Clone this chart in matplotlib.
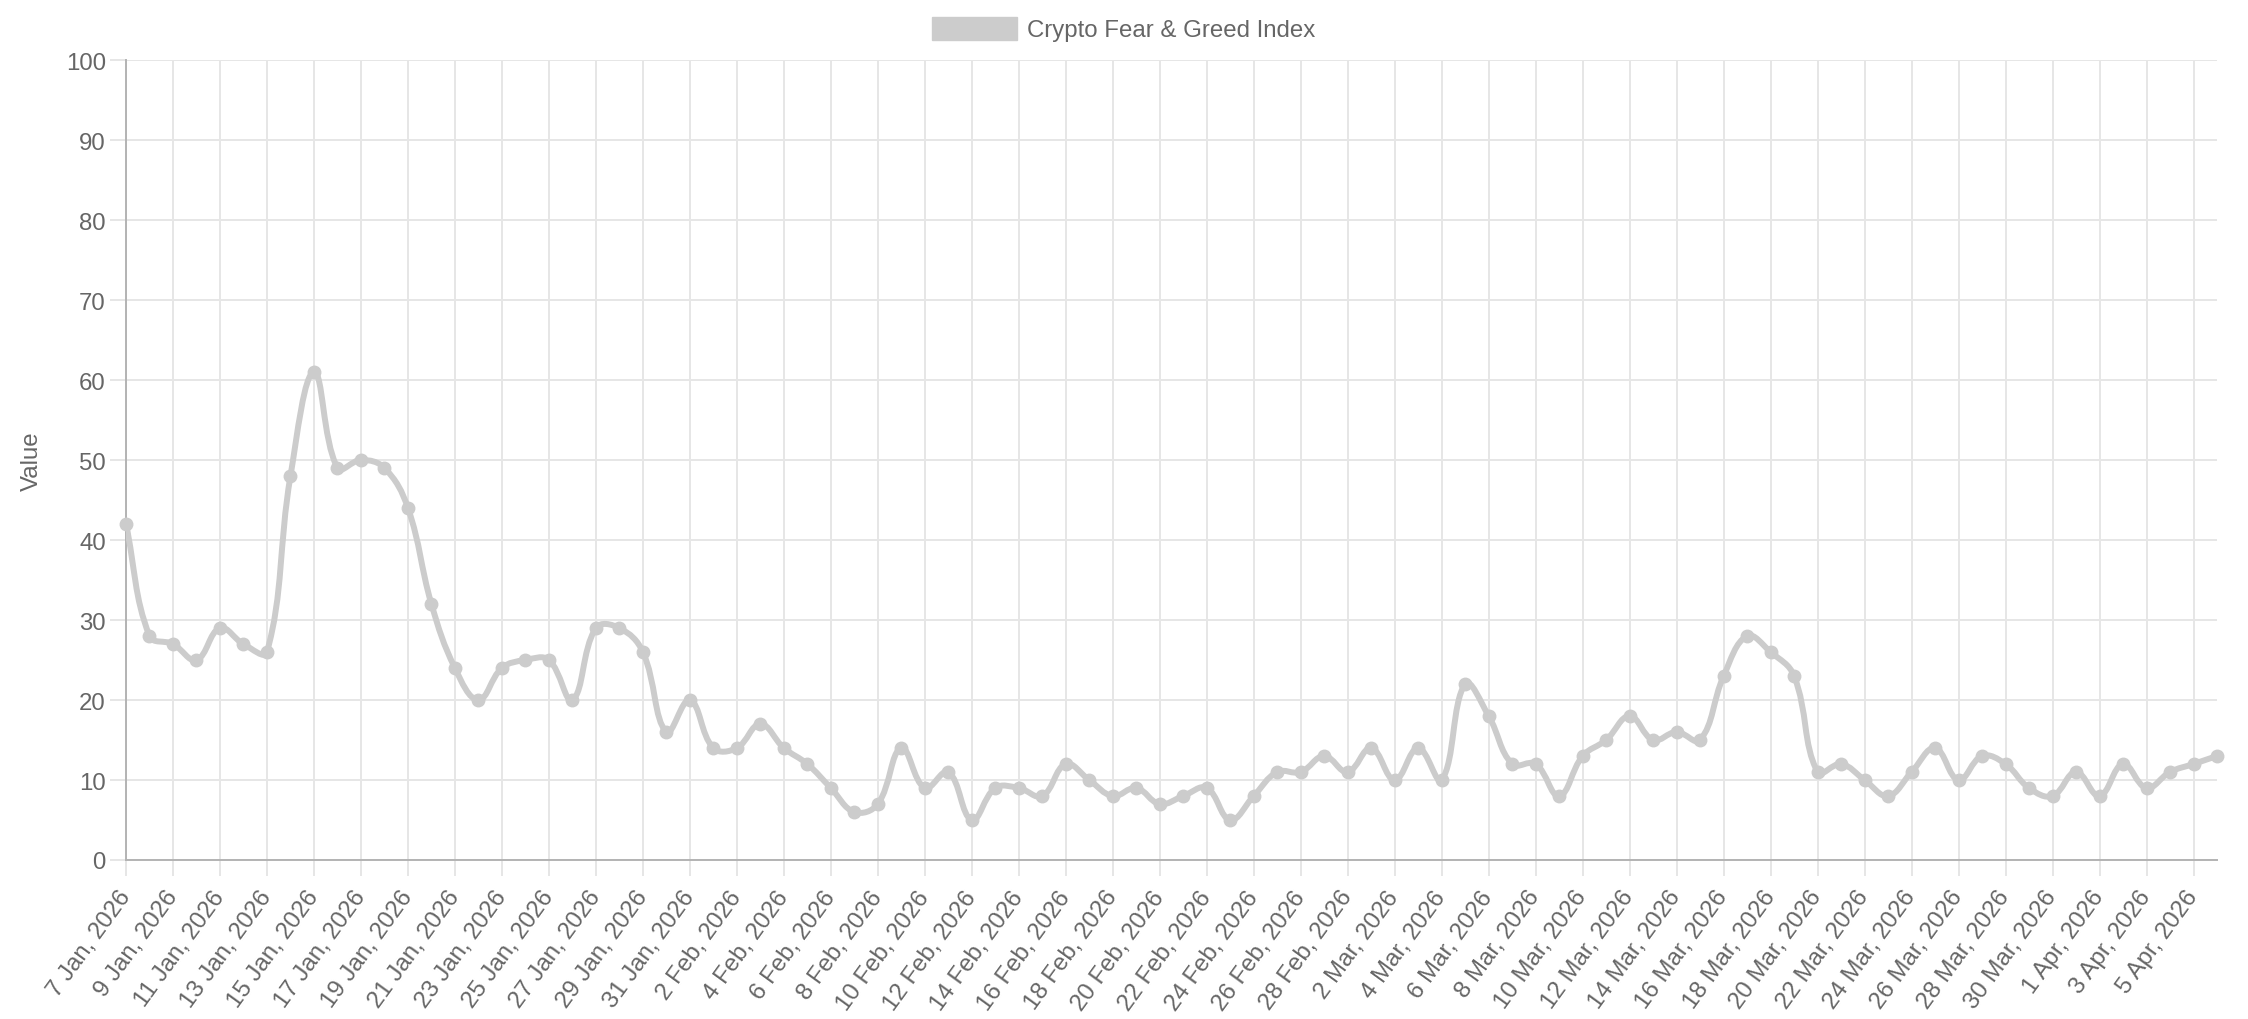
import numpy as np
import pandas as pd
import matplotlib
matplotlib.use("Agg")
import matplotlib.pyplot as plt
from matplotlib.path import Path
from matplotlib.patches import PathPatch, Patch

plt.rcParams['font.family'] = ['Liberation Sans', 'DejaVu Sans']

# --- data ---
start_date = "2026-01-07"
values = [
    42, 28, 27, 25, 29, 27, 26, 48, 61, 49, 50, 49, 44, 32, 24, 20, 24, 25, 25, 20,
    29, 29, 26, 16, 20,                                   # 7 Jan .. 31 Jan
    14, 14, 17, 14, 12, 9, 6, 7, 14, 9, 11, 5, 9, 9, 8, 12, 10, 8, 9, 7,
    8, 9, 5, 8, 11, 11, 13, 11,                           # Feb
    14, 10, 14, 10, 22, 18, 12, 12, 8, 13, 15, 18, 15, 16, 15, 23, 28, 26, 23, 11,
    12, 10, 8, 11, 14, 10, 13, 12, 9, 8, 11,              # Mar
    8, 12, 9, 11, 12, 13,                                 # Apr
]
dates = pd.date_range(start_date, periods=len(values), freq="D")
labels = [f"{d.day} {d.strftime('%b')}, {d.year}" for d in dates]
series_name = "Crypto Fear & Greed Index"
y_ticks = list(range(0, 101, 10))

LINE = "#cccccc"
GRID = "#e6e6e6"
AXIS = "#b3b3b3"
TEXT = "#666666"
FS = 17.3
TENSION = 0.4

W, H = 2248, 1020
fig = plt.figure(figsize=(W / 100, H / 100), dpi=100)
ax = fig.add_axes([126 / W, 1 - 861 / H, 2091 / W, 800 / H])

x = np.arange(len(values))
ax.set_xlim(0, len(values) - 1)
ax.set_ylim(0, 100)

# chart.js-like bezier smoothing, computed in pixel space
pts = ax.transData.transform(np.column_stack([x, values]))
n = len(pts)
cp_prev = np.zeros_like(pts)
cp_next = np.zeros_like(pts)
for i in range(n):
    p = pts[i - 1] if i > 0 else pts[i]
    c = pts[i]
    nx = pts[i + 1] if i < n - 1 else pts[i]
    d01 = np.hypot(*(c - p))
    d12 = np.hypot(*(nx - c))
    tot = d01 + d12
    s01 = d01 / tot if tot else 0
    s12 = d12 / tot if tot else 0
    cp_prev[i] = c - TENSION * s01 * (nx - p)
    cp_next[i] = c + TENSION * s12 * (nx - p)
x0, y0 = ax.transData.transform((0, 0))
x1, y1 = ax.transData.transform((len(values) - 1, 100))
for cp in (cp_prev, cp_next):
    cp[:, 0] = np.clip(cp[:, 0], x0, x1)
    cp[:, 1] = np.clip(cp[:, 1], y0, y1)

verts = [pts[0]]
codes = [Path.MOVETO]
for i in range(n - 1):
    verts += [cp_next[i], cp_prev[i + 1], pts[i + 1]]
    codes += [Path.CURVE4] * 3
verts = ax.transData.inverted().transform(np.array(verts))
ax.add_patch(PathPatch(Path(verts, codes), facecolor="none", edgecolor=LINE,
                       lw=4.3, capstyle="round", joinstyle="round", zorder=3))
ax.plot(x, values, "o", color=LINE, ms=9, mec=LINE, zorder=4, clip_on=False)

# axes styling
ax.set_xticks(x[::2])
ax.set_xticklabels(labels[::2], rotation=54, ha="right", va="center",
                   rotation_mode="anchor")
ax.set_yticks(y_ticks)
ax.tick_params(axis="both", colors=GRID, labelcolor=TEXT, labelsize=FS,
               length=11.5, width=1.4)
ax.tick_params(axis="x", pad=12)
ax.tick_params(axis="y", pad=3)
ax.grid(True, color=GRID, lw=1.4)
ax.set_axisbelow(True)
for side in ("top", "right"):
    ax.spines[side].set_visible(False)
for side in ("left", "bottom"):
    ax.spines[side].set_color(AXIS)
    ax.spines[side].set_linewidth(1.4)

ax.set_ylabel("Value", fontsize=FS, color=TEXT, va="center")
ax.yaxis.set_label_coords((32 - 126) / 2091, 0.5)

fig.legend(handles=[Patch(facecolor=LINE, edgecolor=LINE, label=series_name)],
           loc="center", bbox_to_anchor=(0.5, 1 - 30 / H), frameon=False,
           fontsize=FS, labelcolor=TEXT, handlelength=3.5, handleheight=1.1,
           handletextpad=0.45)

fig.savefig("out.png", dpi=100, facecolor="white")
